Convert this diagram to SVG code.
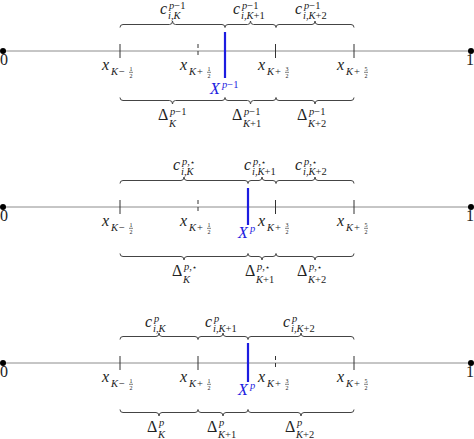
<svg xmlns="http://www.w3.org/2000/svg" width="474" height="439" viewBox="0 0 474 439">
<defs>
<style>
.axis{stroke:#8c8c8c;stroke-width:1;fill:none}
.tick{stroke:#333;stroke-width:1;fill:none}
.dash{stroke:#333;stroke-width:1;fill:none;stroke-dasharray:4 3}
.brace{stroke:#444;stroke-width:1;fill:none}
.xp{stroke:#1c1ce0;stroke-width:2.2}
.dot{fill:#000}
text{font-family:"Liberation Serif","DejaVu Serif",serif;fill:#222}
.m{font-style:italic;font-size:16px}
.u{font-size:16px}
.s{font-style:italic;font-size:10.5px}
.n{font-style:normal}
.f{font-size:6px;text-anchor:middle}
.b{fill:#1c1ce0}
.st{font-family:"DejaVu Sans",sans-serif;font-style:normal;font-size:8px}
.fb{stroke:#222;stroke-width:0.6}
</style>
</defs>

<!-- ================= Panel 1 ================= -->
<g id="panel1">
<line class="axis" x1="3" y1="51" x2="471" y2="51"/>
<circle class="dot" cx="3" cy="51" r="3"/>
<circle class="dot" cx="471" cy="51" r="3"/>
<text class="u" x="4" y="65" text-anchor="middle">0</text>
<text class="u" x="470" y="65" text-anchor="middle">1</text>
<line class="tick" x1="120" y1="44" x2="120" y2="58"/>
<line class="dash" x1="198" y1="44" x2="198" y2="58"/>
<line class="tick" x1="275.5" y1="44" x2="275.5" y2="58"/>
<line class="tick" x1="354" y1="44" x2="354" y2="58"/>
<line class="xp" x1="225" y1="32" x2="225" y2="78"/>
<g id="p1-braces">
<path class="brace" d="M120,27.5 Q120,24.5 123,24.5 L169.5,24.5 Q172.5,24.5 172.5,21 Q172.5,24.5 175.5,24.5 L222,24.5 Q225,24.5 225,27.5"/>
<path class="brace" d="M225,27.5 Q225,24.5 228,24.5 L247.5,24.5 Q250.5,24.5 250.5,21 Q250.5,24.5 253.5,24.5 L273,24.5 Q276,24.5 276,27.5"/>
<path class="brace" d="M276,27.5 Q276,24.5 279,24.5 L312,24.5 Q315,24.5 315,21 Q315,24.5 318,24.5 L351,24.5 Q354,24.5 354,27.5"/>
<path class="brace" d="M120,97.5 Q120,100.5 123,100.5 L169.5,100.5 Q172.5,100.5 172.5,104 Q172.5,100.5 175.5,100.5 L222,100.5 Q225,100.5 225,97.5"/>
<path class="brace" d="M225,97.5 Q225,100.5 228,100.5 L247.5,100.5 Q250.5,100.5 250.5,104 Q250.5,100.5 253.5,100.5 L273,100.5 Q276,100.5 276,97.5"/>
<path class="brace" d="M276,97.5 Q276,100.5 279,100.5 L312,100.5 Q315,100.5 315,104 Q315,100.5 318,100.5 L351,100.5 Q354,100.5 354,97.5"/>
</g>
<g id="p1-labels">
<text class="m" x="160" y="14">c</text><text class="s" x="169" y="9">p<tspan class="n">−1</tspan></text><text class="s" x="168" y="19">i<tspan class="n">,</tspan>K</text>
<text class="m" x="233" y="14">c</text><text class="s" x="242" y="9">p<tspan class="n">−1</tspan></text><text class="s" x="241" y="19">i<tspan class="n">,</tspan>K<tspan class="n">+1</tspan></text>
<text class="m" x="295" y="14">c</text><text class="s" x="304" y="9">p<tspan class="n">−1</tspan></text><text class="s" x="303" y="19">i<tspan class="n">,</tspan>K<tspan class="n">+2</tspan></text>

<text class="m" x="102" y="70">x</text><text class="s" x="111" y="75">K</text><text class="s n" x="119" y="75">−</text><text class="f" x="131" y="71">1</text><line class="fb" x1="129" y1="72.3" x2="133" y2="72.3"/><text class="f" x="131" y="77.5">2</text>
<text class="m" x="180" y="70">x</text><text class="s" x="189" y="75">K</text><text class="s n" x="197" y="75">+</text><text class="f" x="209" y="71">1</text><line class="fb" x1="207" y1="72.3" x2="211" y2="72.3"/><text class="f" x="209" y="77.5">2</text>
<text class="m" x="258" y="70">x</text><text class="s" x="267" y="75">K</text><text class="s n" x="275" y="75">+</text><text class="f" x="287" y="71">3</text><line class="fb" x1="285" y1="72.3" x2="289" y2="72.3"/><text class="f" x="287" y="77.5">2</text>
<text class="m" x="337" y="70">x</text><text class="s" x="346" y="75">K</text><text class="s n" x="354" y="75">+</text><text class="f" x="366" y="71">5</text><line class="fb" x1="364" y1="72.3" x2="368" y2="72.3"/><text class="f" x="366" y="77.5">2</text>

<text class="m b" x="210" y="94">X</text><text class="s b" x="222" y="88">p<tspan class="n">−1</tspan></text>

<text class="u" x="158" y="120">Δ</text><text class="s" x="170" y="115">p<tspan class="n">−1</tspan></text><text class="s" x="169" y="127">K</text>
<text class="u" x="232" y="120">Δ</text><text class="s" x="244" y="115">p<tspan class="n">−1</tspan></text><text class="s" x="243" y="127">K<tspan class="n">+1</tspan></text>
<text class="u" x="297" y="120">Δ</text><text class="s" x="309" y="115">p<tspan class="n">−1</tspan></text><text class="s" x="308" y="127">K<tspan class="n">+2</tspan></text>
</g>
</g>

<!-- ================= Panel 2 ================= -->
<g id="panel2" transform="translate(0,156)">
<line class="axis" x1="3" y1="51" x2="471" y2="51"/>
<circle class="dot" cx="3" cy="51" r="3"/>
<circle class="dot" cx="471" cy="51" r="3"/>
<text class="u" x="4" y="65" text-anchor="middle">0</text>
<text class="u" x="470" y="65" text-anchor="middle">1</text>
<line class="tick" x1="120" y1="44" x2="120" y2="58"/>
<line class="dash" x1="198" y1="44" x2="198" y2="58"/>
<line class="tick" x1="275.5" y1="44" x2="275.5" y2="58"/>
<line class="tick" x1="354" y1="44" x2="354" y2="58"/>
<line class="xp" x1="248" y1="32" x2="248" y2="69"/>
<g id="p2-braces">
<path class="brace" d="M120,27.5 Q120,24.5 123,24.5 L181,24.5 Q184,24.5 184,21 Q184,24.5 187,24.5 L245,24.5 Q248,24.5 248,27.5"/>
<path class="brace" d="M248,27.5 Q248,24.5 251,24.5 L259,24.5 Q262,24.5 262,21 Q262,24.5 265,24.5 L273,24.5 Q276,24.5 276,27.5"/>
<path class="brace" d="M276,27.5 Q276,24.5 279,24.5 L312,24.5 Q315,24.5 315,21 Q315,24.5 318,24.5 L351,24.5 Q354,24.5 354,27.5"/>
<path class="brace" d="M120,97.5 Q120,100.5 123,100.5 L181,100.5 Q184,100.5 184,104 Q184,100.5 187,100.5 L245,100.5 Q248,100.5 248,97.5"/>
<path class="brace" d="M248,97.5 Q248,100.5 251,100.5 L259,100.5 Q262,100.5 262,104 Q262,100.5 265,100.5 L273,100.5 Q276,100.5 276,97.5"/>
<path class="brace" d="M276,97.5 Q276,100.5 279,100.5 L312,100.5 Q315,100.5 315,104 Q315,100.5 318,100.5 L351,100.5 Q354,100.5 354,97.5"/>
</g>
<g id="p2-labels">
<text class="m" x="173" y="14">c</text><text class="s" x="182" y="9">p<tspan class="n">,</tspan><tspan class="st">⋆</tspan></text><text class="s" x="181" y="19">i<tspan class="n">,</tspan>K</text>
<text class="m" x="244" y="14">c</text><text class="s" x="253" y="9">p<tspan class="n">,</tspan><tspan class="st">⋆</tspan></text><text class="s" x="252" y="19">i<tspan class="n">,</tspan>K<tspan class="n">+1</tspan></text>
<text class="m" x="295" y="14">c</text><text class="s" x="304" y="9">p<tspan class="n">,</tspan><tspan class="st">⋆</tspan></text><text class="s" x="303" y="19">i<tspan class="n">,</tspan>K<tspan class="n">+2</tspan></text>

<text class="m" x="102" y="70">x</text><text class="s" x="111" y="75">K</text><text class="s n" x="119" y="75">−</text><text class="f" x="131" y="71">1</text><line class="fb" x1="129" y1="72.3" x2="133" y2="72.3"/><text class="f" x="131" y="77.5">2</text>
<text class="m" x="180" y="70">x</text><text class="s" x="189" y="75">K</text><text class="s n" x="197" y="75">+</text><text class="f" x="209" y="71">1</text><line class="fb" x1="207" y1="72.3" x2="211" y2="72.3"/><text class="f" x="209" y="77.5">2</text>
<text class="m" x="258" y="70">x</text><text class="s" x="267" y="75">K</text><text class="s n" x="275" y="75">+</text><text class="f" x="287" y="71">3</text><line class="fb" x1="285" y1="72.3" x2="289" y2="72.3"/><text class="f" x="287" y="77.5">2</text>
<text class="m" x="337" y="70">x</text><text class="s" x="346" y="75">K</text><text class="s n" x="354" y="75">+</text><text class="f" x="366" y="71">5</text><line class="fb" x1="364" y1="72.3" x2="368" y2="72.3"/><text class="f" x="366" y="77.5">2</text>

<text class="m b" x="238" y="82">X</text><text class="s b" x="250" y="76">p</text>

<text class="u" x="172" y="120">Δ</text><text class="s" x="184" y="114">p<tspan class="n">,</tspan><tspan class="st">⋆</tspan></text><text class="s" x="183" y="127">K</text>
<text class="u" x="245" y="120">Δ</text><text class="s" x="257" y="114">p<tspan class="n">,</tspan><tspan class="st">⋆</tspan></text><text class="s" x="256" y="127">K<tspan class="n">+1</tspan></text>
<text class="u" x="297" y="120">Δ</text><text class="s" x="309" y="114">p<tspan class="n">,</tspan><tspan class="st">⋆</tspan></text><text class="s" x="308" y="127">K<tspan class="n">+2</tspan></text>
</g>
</g>

<!-- ================= Panel 3 ================= -->
<g id="panel3" transform="translate(0,312)">
<line class="axis" x1="3" y1="51" x2="471" y2="51"/>
<circle class="dot" cx="3" cy="51" r="3"/>
<circle class="dot" cx="471" cy="51" r="3"/>
<text class="u" x="4" y="65" text-anchor="middle">0</text>
<text class="u" x="470" y="65" text-anchor="middle">1</text>
<line class="tick" x1="120" y1="44" x2="120" y2="58"/>
<line class="tick" x1="198" y1="44" x2="198" y2="58"/>
<line class="dash" x1="275.5" y1="44" x2="275.5" y2="58"/>
<line class="tick" x1="354" y1="44" x2="354" y2="58"/>
<line class="xp" x1="248" y1="31" x2="248" y2="70"/>
<g id="p3-braces">
<path class="brace" d="M120,27.5 Q120,24.5 123,24.5 L156,24.5 Q159,24.5 159,21 Q159,24.5 162,24.5 L195,24.5 Q198,24.5 198,27.5"/>
<path class="brace" d="M198,27.5 Q198,24.5 201,24.5 L220,24.5 Q223,24.5 223,21 Q223,24.5 226,24.5 L245,24.5 Q248,24.5 248,27.5"/>
<path class="brace" d="M248,27.5 Q248,24.5 251,24.5 L298,24.5 Q301,24.5 301,21 Q301,24.5 304,24.5 L351,24.5 Q354,24.5 354,27.5"/>
<path class="brace" d="M120,97.5 Q120,100.5 123,100.5 L156,100.5 Q159,100.5 159,104 Q159,100.5 162,100.5 L195,100.5 Q198,100.5 198,97.5"/>
<path class="brace" d="M198,97.5 Q198,100.5 201,100.5 L220,100.5 Q223,100.5 223,104 Q223,100.5 226,100.5 L245,100.5 Q248,100.5 248,97.5"/>
<path class="brace" d="M248,97.5 Q248,100.5 251,100.5 L298,100.5 Q301,100.5 301,104 Q301,100.5 304,100.5 L351,100.5 Q354,100.5 354,97.5"/>
</g>
<g id="p3-labels">
<text class="m" x="145" y="15">c</text><text class="s" x="154" y="10">p</text><text class="s" x="153" y="20">i<tspan class="n">,</tspan>K</text>
<text class="m" x="205" y="15">c</text><text class="s" x="214" y="10">p</text><text class="s" x="213" y="20">i<tspan class="n">,</tspan>K<tspan class="n">+1</tspan></text>
<text class="m" x="283" y="15">c</text><text class="s" x="292" y="10">p</text><text class="s" x="291" y="20">i<tspan class="n">,</tspan>K<tspan class="n">+2</tspan></text>

<text class="m" x="102" y="70">x</text><text class="s" x="111" y="75">K</text><text class="s n" x="119" y="75">−</text><text class="f" x="131" y="71">1</text><line class="fb" x1="129" y1="72.3" x2="133" y2="72.3"/><text class="f" x="131" y="77.5">2</text>
<text class="m" x="180" y="70">x</text><text class="s" x="189" y="75">K</text><text class="s n" x="197" y="75">+</text><text class="f" x="209" y="71">1</text><line class="fb" x1="207" y1="72.3" x2="211" y2="72.3"/><text class="f" x="209" y="77.5">2</text>
<text class="m" x="258" y="70">x</text><text class="s" x="267" y="75">K</text><text class="s n" x="275" y="75">+</text><text class="f" x="287" y="71">3</text><line class="fb" x1="285" y1="72.3" x2="289" y2="72.3"/><text class="f" x="287" y="77.5">2</text>
<text class="m" x="337" y="70">x</text><text class="s" x="346" y="75">K</text><text class="s n" x="354" y="75">+</text><text class="f" x="366" y="71">5</text><line class="fb" x1="364" y1="72.3" x2="368" y2="72.3"/><text class="f" x="366" y="77.5">2</text>

<text class="m b" x="238" y="83">X</text><text class="s b" x="250" y="77">p</text>

<text class="u" x="147" y="120">Δ</text><text class="s" x="159" y="114">p</text><text class="s" x="158" y="126">K</text>
<text class="u" x="207" y="120">Δ</text><text class="s" x="219" y="114">p</text><text class="s" x="218" y="126">K<tspan class="n">+1</tspan></text>
<text class="u" x="285" y="120">Δ</text><text class="s" x="297" y="114">p</text><text class="s" x="296" y="126">K<tspan class="n">+2</tspan></text>
</g>
</g>
</svg>
